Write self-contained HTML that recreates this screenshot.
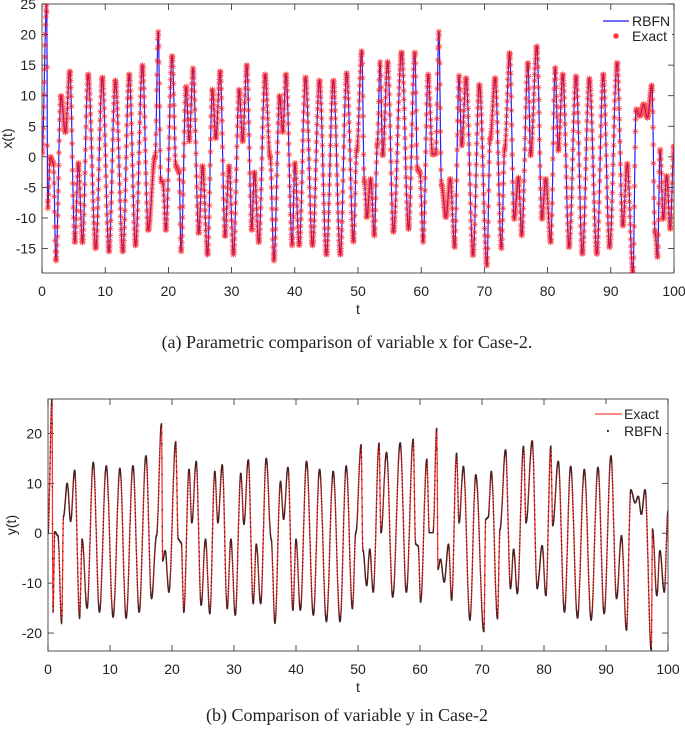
<!DOCTYPE html>
<html><head><meta charset="utf-8">
<style>
html,body{margin:0;padding:0;background:#fff;}
svg{display:block;}
.tk{font-family:"Liberation Sans",sans-serif;font-size:14px;fill:#222;}
.cap{font-family:"Liberation Serif",serif;font-size:18px;fill:#222;}
</style></head>
<body>
<svg id="fig" width="685" height="730" viewBox="0 0 685 730" xmlns="http://www.w3.org/2000/svg">
<g id="top"></g>
<g id="bot"></g>
<text class="cap" x="347" y="348" text-anchor="middle">(a)  Parametric comparison of variable x for Case-2.</text>
<text class="cap" x="347" y="721" text-anchor="middle">(b)  Comparison of variable y in Case-2</text>
</svg>
<script>
// x(t) key points (time, value)
const xTimes=[0,0.74,0.9,1.3,1.8,2.2,3.0,3.7,4.4,5.2,5.75,6.4,7.3,8.5,9.55,10.6,11.6,12.8,13.8,14.8,15.9,16.8,17.9,18.4,18.8,19.1,19.6,20.6,21.2,21.7,22.0,22.8,23.3,23.9,24.8,25.4,26.2,26.96,27.5,28.2,28.96,29.6,30.3,31.2,31.75,32.4,33.2,33.6,34.3,35.3,36.1,36.7,37.6,38.1,38.6,39.6,40.0,40.7,41.7,42.8,43.9,45.0,46.1,47.2,48.2,49.3,49.8,50.6,51.0,51.4,52.0,52.6,53.05,53.5,53.9,54.7,55.6,56.9,58.0,59.0,59.4,59.8,60.3,61.1,61.8,62.3,62.8,63.2,63.9,64.6,65.3,66.0,66.4,67.1,68.2,69.2,70.4,70.9,71.7,72.7,73.2,74.0,74.7,75.4,75.9,76.9,77.3,78.3,79.1,79.7,80.5,81.2,81.7,82.4,83.4,84.5,85.5,86.6,87.8,88.8,89.8,91.0,91.9,92.6,93.5,94.0,94.6,95.2,95.8,96.5,97.0,97.4,97.8,98.3,98.85,99.4,100];
const xValues=[0.5,25,-8.5,0,-1,-17,10,4,14,-14,-1,-14,13.5,-15,13,-15.5,12.5,-15.5,13.5,-14.5,15,-12,0,20.5,-4,-4,-12,16.5,-1.5,-2.5,-15.5,11.5,2.5,14.5,-12.5,-1.5,-16,11,3,14,-13,-1.5,-16,11,2.5,15,-12,-2.5,-14,13.5,0,-17,10,4,13.5,-14.5,-1,-14.5,13,-14.5,12.5,-16,12.5,-16,13.7,-13.9,1,17.3,-4,-9.9,-3.6,-12.9,2,15.6,0.2,15.6,-12.3,17.1,-11.8,17.1,-2,-2.5,-14,13.5,0.4,0.5,20.5,-4.5,-9.9,-3.6,-14.8,13.3,1.8,12.9,-16.1,11.8,-17.8,2.9,12.9,-15,1.2,17,-10.2,-3.4,-12.9,15.4,0.2,18.1,-10.2,-3.6,-14,14.6,1,13.5,-14.8,13.2,-15.9,12.8,-15.9,13.5,-14.8,15.4,-11.3,-1.1,-19.1,7.8,6.7,8.6,6.4,11.7,-12.3,-16.4,1.2,-10.2,-3.1,-11.8,1.8];
// y(t) key points
const yTimes=[0,0.65,0.8,1.1,1.6,2.2,2.5,3.1,3.65,4.3,5.1,5.5,6.3,7.3,8.3,9.4,10.5,11.6,12.6,13.7,14.7,15.8,16.7,17.5,18.3,18.5,18.9,19.5,20.6,21.0,21.5,21.9,22.75,23.2,23.9,24.7,25.4,26.1,26.9,27.4,28.1,28.9,29.5,30.2,31.1,31.6,32.3,33.1,33.6,34.3,35.2,36.0,36.6,37.5,38.0,38.7,39.5,40.0,40.7,41.7,42.8,43.8,44.9,46.0,47.1,48.1,49.1,49.65,50.5,50.8,51.4,51.9,52.45,53.4,53.7,54.6,55.6,56.8,57.8,58.9,59.3,59.7,60.1,61.1,61.5,62.1,62.7,62.9,63.3,63.9,64.6,65.1,65.9,66.3,67.0,68.05,69.0,70.3,70.6,71.0,71.5,72.5,72.9,73.8,74.6,75.1,75.7,76.7,77.1,78.1,78.9,79.7,80.3,81.1,81.4,82.3,83.3,84.3,85.4,86.5,87.6,88.7,89.7,90.8,91.7,92.5,93.3,94.0,94.7,95.2,95.7,96.3,97.3,97.5,98.2,98.7,99.4,100];
const yValues=[0,27,-15.8,0.3,-0.5,-18,3.4,10,2.4,12.6,-17,-1.2,-15,14.2,-15.8,13.5,-16.8,13,-17,13.5,-15.8,15.5,-13.1,-0.5,21.9,-5.5,-3.5,-11.8,18.3,-1.2,-1.9,-15.8,12.8,2.1,14.4,-14.4,-1.2,-16.1,12.4,2.1,13.7,-15.1,-1.2,-16.4,12,1.8,14.7,-14.1,-2.2,-14.1,15,-1.2,-18,10.4,2.8,13.2,-15.4,-1.2,-15.4,14.4,-16.4,12.8,-17.7,12.4,-17.7,13.5,-15.1,0.1,17.7,-3.5,-10.5,-3.2,-11.8,18,0.1,16.2,-12.8,18.1,-11.8,18.8,-2.2,-2.5,-13.8,14.8,0.1,0.1,21,-7.2,-5.2,-9.8,-2.2,-13.4,16,2.1,13.4,-17.4,11.7,-19.7,2.8,3.2,12.4,-17.1,0.8,16.7,-11.1,-3.2,-12.1,17.4,2.1,18.5,-11.1,-2.5,-12.5,17.4,1.5,14.4,-15.8,13.4,-17,12.8,-17.4,13.2,-16.1,15.5,-13.1,-0.5,-19.4,8.7,6.1,7.4,3.8,8.7,-23.4,0.8,-12.5,-3.5,-11.8,4.4];
const xTickLabels=["0","10","20","30","40","50","60","70","80","90","100"];
const topYTickLabels=["-15","-10","-5","0","5","10","15","20","25"];
const botYTickLabels=["-20","-10","0","10","20"];

const NS="http://www.w3.org/2000/svg";
function mk(parent,tag,attrs){const e=document.createElementNS(NS,tag);for(const k in attrs)e.setAttribute(k,attrs[k]);parent.appendChild(e);return e;}
function interp(ts,vs,t){
  let i=0;while(i<ts.length-2&&ts[i+1]<t)i++;
  const a=ts[i],b=ts[i+1];let u=(t-a)/(b-a);u=Math.max(0,Math.min(1,u));
  const s=(1-Math.cos(Math.PI*u))/2;return vs[i]+(vs[i+1]-vs[i])*s;
}
function axes(g,L,T,R,B,ymin,ymax,yticks,ylab){
  const sx=t=>L+(t/100)*(R-L), sy=v=>B-(v-ymin)/(ymax-ymin)*(B-T);
  const box=mk(g,'rect',{x:L,y:T,width:R-L,height:B-T,fill:'none',stroke:'#262626','stroke-width':0.8});
  
  
  xTickLabels.forEach((lb,i)=>{const t=+lb;const x=sx(t);
    mk(g,'line',{x1:x,y1:B,x2:x,y2:B-6,stroke:'#262626','stroke-width':0.8});
    mk(g,'line',{x1:x,y1:T,x2:x,y2:T+6,stroke:'#262626','stroke-width':0.8});
    const tx=mk(g,'text',{x:x,y:B+23,'text-anchor':'middle',class:'tk'});tx.textContent=lb;
    
    
  });
  yticks.forEach(lb=>{const v=+lb;const y=sy(v);
    mk(g,'line',{x1:L,y1:y,x2:L+6,y2:y,stroke:'#262626','stroke-width':0.8});
    mk(g,'line',{x1:R,y1:y,x2:R-6,y2:y,stroke:'#262626','stroke-width':0.8});
    const tx=mk(g,'text',{x:L-6,y:y+5,'text-anchor':'end',class:'tk'});tx.textContent=lb;
    
    
  });
  const xl=mk(g,'text',{x:(L+R)/2,y:B+41,'text-anchor':'middle',class:'tk'});xl.textContent='t';
  
  
  const yl=mk(g,'text',{x:0,y:0,'text-anchor':'middle',class:'tk',transform:`translate(${ylab[0]},${(T+B)/2}) rotate(-90)`});yl.textContent=ylab[1];
  
  
  return [sx,sy];
}
// top chart
(function(){
  const g=document.getElementById('top');
  const L=42,T=4,R=674,B=273;
  const clip=mk(g,'clipPath',{id:'c1'});mk(clip,'rect',{x:L,y:T,width:R-L,height:B-T});
  const [sx,sy]=axes(g,L,T,R,B,-19,25,topYTickLabels,[12,'x(t)']);
  let line='',mark='';
  const N=2500,dt=100/N;
  for(let k=0;k<=N;k++){const t=k*dt;const x=sx(t),y=sy(interp(xTimes,xValues,t));
    line+=(k?'L':'M')+x.toFixed(1)+','+y.toFixed(1);
    mark+=`M${(x-3).toFixed(1)},${y.toFixed(1)}h6M${x.toFixed(1)},${(y-3).toFixed(1)}v6M${(x-2.2).toFixed(1)},${(y-2.2).toFixed(1)}l4.4,4.4M${(x-2.2).toFixed(1)},${(y+2.2).toFixed(1)}l4.4,-4.4`;}
  const gg=mk(g,'g',{'clip-path':'url(#c1)'});
  const p=mk(gg,'path',{d:line,fill:'none',stroke:'#2020ff','stroke-width':1.2});
  
  
  const m=mk(gg,'path',{d:mark,fill:'none',stroke:'#ff1010','stroke-width':0.8,'stroke-opacity':0.7});
  
  
  const lg=mk(g,'g',{});
  
  
  mk(lg,'rect',{x:598,y:10,width:74,height:36,fill:'#fff'});
  mk(lg,'line',{x1:603,y1:21,x2:629,y2:21,stroke:'#4040ff','stroke-width':1.5});
  const t1=mk(lg,'text',{x:632,y:26,class:'tk'});t1.textContent='RBFN';
  mk(lg,'path',{d:'M613,36h6M616,33v6M613.8,33.8l4.4,4.4M613.8,38.2l4.4,-4.4',stroke:'#ff1010','stroke-width':1});
  const t2=mk(lg,'text',{x:632,y:41,class:'tk'});t2.textContent='Exact';
})();
// bottom chart
(function(){
  const g=document.getElementById('bot');
  const L=48,T=399,R=668,B=651;
  const clip=mk(g,'clipPath',{id:'c2'});mk(clip,'rect',{x:L,y:T,width:R-L,height:B-T});
  const [sx,sy]=axes(g,L,T,R,B,-23.6,26.9,botYTickLabels,[16,'y(t)']);
  let line='',dots='';
  const N=6000,dt=100/N;
  for(let k=0;k<=N;k++){const t=k*dt;const x=sx(t),y=sy(interp(yTimes,yValues,t));
    line+=(k?'L':'M')+x.toFixed(1)+','+y.toFixed(1);
    dots+=`M${(x-0.7).toFixed(1)},${(y-0.7).toFixed(1)}h1.4v1.4h-1.4z`;}
  const gg=mk(g,'g',{'clip-path':'url(#c2)'});
  const p=mk(gg,'path',{d:line,fill:'none',stroke:'#ff3030','stroke-width':1.3});
  
  
  const m=mk(gg,'path',{d:dots,fill:'#1a1a1a','fill-opacity':0.8});
  
  
  const lg=mk(g,'g',{});
  
  
  mk(lg,'rect',{x:592,y:404,width:74,height:38,fill:'#fff'});
  mk(lg,'line',{x1:595,y1:414,x2:622,y2:414,stroke:'#ff6060','stroke-width':1.5});
  const t1=mk(lg,'text',{x:624,y:419,class:'tk'});t1.textContent='Exact';
  mk(lg,'rect',{x:607,y:430,width:1.8,height:1.8,fill:'#111'});
  const t2=mk(lg,'text',{x:624,y:436,class:'tk'});t2.textContent='RBFN';
})();
</script>
</body></html>
